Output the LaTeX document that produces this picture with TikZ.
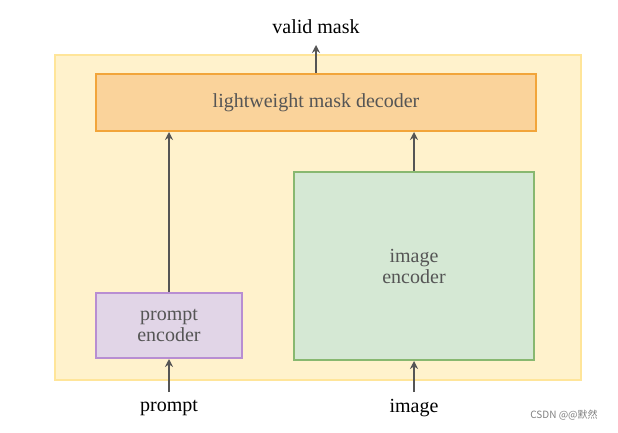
\documentclass[tikz,border=0pt]{standalone}
\usepackage{fontspec}
\setmainfont{Liberation Serif}
\newfontfamily\cjk{Noto Sans CJK SC}
\usetikzlibrary{arrows.meta}
\definecolor{outerfill}{HTML}{FFF2CC}
\definecolor{outerline}{HTML}{FFE599}
\definecolor{decfill}{HTML}{FAD39B}
\definecolor{decline}{HTML}{F2A53A}
\definecolor{imgfill}{HTML}{D5E8D4}
\definecolor{imgline}{HTML}{88B870}
\definecolor{prfill}{HTML}{E1D5E7}
\definecolor{prline}{HTML}{B88ED2}
\definecolor{arr}{HTML}{555555}
\definecolor{txt}{HTML}{555555}
\begin{document}
\begin{tikzpicture}[x=1pt,y=-1pt,
  box/.style={draw,line width=2pt,inner sep=0pt,font=\fontsize{20}{23}\selectfont,text=txt,align=center},
  lbl/.style={inner sep=0pt,font=\fontsize{20}{23}\selectfont,text=black},
  arrline/.style={draw=arr,line width=2.2pt,-{Stealth[length=8pt,width=8pt]}}]
\useasboundingbox (0,0) rectangle (618,433);
\fill[outerfill,draw=outerline,line width=2pt] (55,55) rectangle (581,380);
\node[box,fill=decfill,draw=decline,minimum width=440pt,minimum height=57pt] (dec) at (316,102.5) {lightweight mask decoder};
\node[box,fill=imgfill,draw=imgline,minimum width=240pt,minimum height=188pt] (img) at (414,266) {image\\[-2pt]encoder};
\node[box,fill=prfill,draw=prline,minimum width=146pt,minimum height=65pt] (pr) at (169,325.5) {prompt\\[-2pt]encoder};
\node[lbl] (vm) at (316,27) {valid mask};
\node[lbl] (pt) at (169,408) {prompt};
\node[lbl] (im) at (414,408) {image};
\node[inner sep=0pt,font=\cjk\fontsize{10}{12}\selectfont,text=gray] (wm) at (564,415) {CSDN @@默然};
\coordinate (vmb) at (316,45);
\coordinate (ptt) at (169,392);
\coordinate (imt) at (414,392);
\draw[arrline] (ptt) -- (pr.south);
\draw[arrline] (imt) -- (img.south);
\draw[arrline] (pr.north) -- (pr.north |- dec.south);
\draw[arrline] (img.north) -- (img.north |- dec.south);
\draw[arrline] (dec.north) -- (vmb);
\end{tikzpicture}
\end{document}
